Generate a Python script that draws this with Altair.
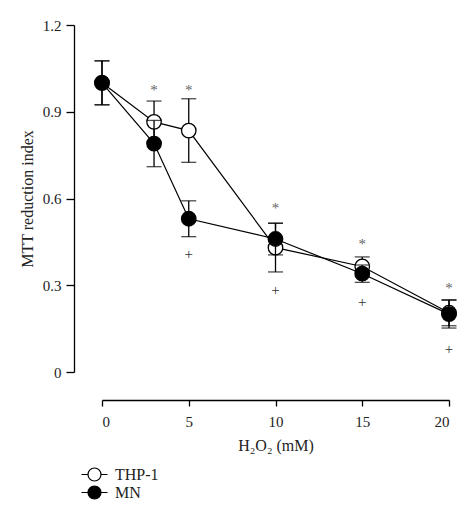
import altair as alt
import pandas as pd

# ---- data ----
conc = [0, 3, 5, 10, 15, 20]
thp1_mean = [1.00, 0.865, 0.835, 0.430, 0.365, 0.205]
thp1_err = [0.076, 0.072, 0.110, 0.084, 0.033, 0.045]
mn_mean = [1.00, 0.790, 0.530, 0.460, 0.340, 0.200]
mn_err = [0.076, 0.080, 0.062, 0.055, 0.030, 0.048]

star_x = [3, 5, 10, 15, 20]
star_y = [0.985, 0.985, 0.578, 0.453, 0.300]
plus_x = [5, 10, 15, 20]
plus_y = [0.408, 0.284, 0.242, 0.080]

series_names = ["THP-1", "MN"]
x_ticks = [0, 5, 10, 15, 20]
y_ticks = [0, 0.3, 0.6, 0.9, 1.2]

FONT = "Liberation Serif"

rows = []
for name, means, errs in [("THP-1", thp1_mean, thp1_err), ("MN", mn_mean, mn_err)]:
    for c, m, e in zip(conc, means, errs):
        rows.append({"conc": c, "val": m, "lo": m - e, "hi": m + e, "series": name})
df = pd.DataFrame(rows)
df_thp = df[df.series == "THP-1"]
df_mn = df[df.series == "MN"]

stars = pd.DataFrame({"conc": star_x, "val": star_y, "t": ["*"] * len(star_x)})
pluses = pd.DataFrame({"conc": plus_x, "val": plus_y, "t": ["+"] * len(plus_x)})

xs = alt.Scale(domain=[0, 20], nice=False, zero=False)
ys = alt.Scale(domain=[0, 1.2], nice=False)

X = alt.X("conc:Q", scale=xs, axis=alt.Axis(
    values=x_ticks, offset=28, tickSize=6, labelPadding=8, titlePadding=8,
    title="H₂O₂ (mM)", format="d"))
Y = alt.Y("val:Q", scale=ys, axis=alt.Axis(
    values=y_ticks, offset=28, tickSize=8, labelPadding=5, titlePadding=7,
    title="MTT reduction index", format=".1~f"))

fill_scale = alt.Scale(domain=series_names, range=["white", "black"])

legend_path = ("M-2,0L-1,0M1,0L2,0M-1,0A1,1,0,1,1,1,0A1,1,0,1,1,-1,0Z")

lines = alt.Chart(df).mark_line(color="black", strokeWidth=1.2).encode(
    x=X, y=Y, detail="series:N")


def errbars(d):
    base = alt.Chart(d)
    rule = base.mark_rule(color="black", strokeWidth=1.3).encode(
        x="conc:Q", y="lo:Q", y2="hi:Q")
    t1 = base.mark_tick(orient="horizontal", size=15, thickness=1.3, color="black").encode(
        x="conc:Q", y="lo:Q")
    t2 = base.mark_tick(orient="horizontal", size=15, thickness=1.3, color="black").encode(
        x="conc:Q", y="hi:Q")
    return rule + t1 + t2


def points(d):
    return alt.Chart(d).mark_point(shape="circle", size=210, filled=True, stroke="black",
                                   strokeWidth=1.3, opacity=1).encode(
        x="conc:Q", y="val:Q",
        fill=alt.Fill("series:N", scale=fill_scale, legend=alt.Legend(
            title=None, orient="none", legendX=-15.5, legendY=441.5, padding=0,
            symbolType=legend_path, symbolSize=169, symbolStrokeColor="black",
            symbolStrokeWidth=1.2, symbolOpacity=1, labelFont=FONT, labelFontSize=16,
            labelColor="#222", labelOffset=12.5, rowPadding=0)))


star_text = alt.Chart(stars).mark_text(font=FONT, fontSize=15, color="#666", baseline="middle", dy=3).encode(
    x="conc:Q", y="val:Q", text="t:N")
plus_text = alt.Chart(pluses).mark_text(font=FONT, fontSize=15, color="#333", baseline="middle").encode(
    x="conc:Q", y="val:Q", text="t:N")

chart = alt.layer(
    lines, errbars(df_thp), points(df_thp), errbars(df_mn), points(df_mn), star_text, plus_text
).properties(
    width=347, height=347,
    background="white",
    autosize=alt.AutoSizeParams(type="none"),
    padding={"left": 102, "top": 25, "right": 25, "bottom": 146},
).configure_view(stroke=None).configure_axis(
    grid=False, domainColor="black", tickColor="black", domainWidth=1.3, tickWidth=1.3,
    labelFont=FONT, labelFontSize=15, labelColor="#222",
    titleFont=FONT, titleFontSize=16, titleFontWeight="normal", titleColor="#222",
)

chart.save("out.html", embed_options={"renderer": "svg", "actions": False})
